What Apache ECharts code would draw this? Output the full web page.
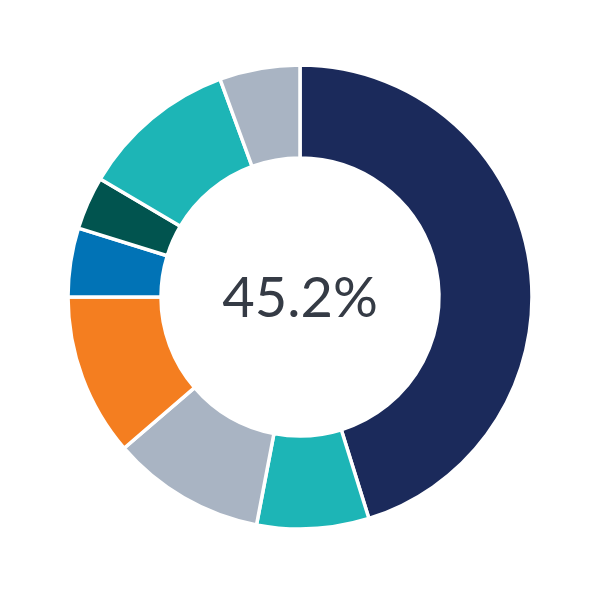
<!DOCTYPE html>
<html style="height: 100%">
<head>
    <meta charset="utf-8">
    <title>Donut</title>
    <script src="https://cdn.jsdelivr.net/npm/echarts@6/dist/echarts.min.js"></script>
</head>
<body style="height: 100%; margin: 0; background: #fff">
    <div id="main" style="width: 600px; height: 600px"></div>
    <script type="text/javascript">
        // slice data, clockwise from 12 o'clock
        var names  = ['A', 'B', 'C', 'D', 'E', 'F', 'G', 'H'];
        var values = [45.2, 7.8, 10.7, 11.3, 4.8, 3.7, 10.9, 5.6];
        var colors = ['#1b2a5b', '#1db5b6', '#a9b4c3', '#f47e20', '#0173b6', '#01544f', '#1db5b6', '#a9b4c3'];
        var centerLabel = '45.2%';

        var myChart = echarts.init(document.getElementById('main'));

        var data = names.map(function (n, i) {
            return { name: n, value: values[i], itemStyle: { color: colors[i] } };
        });

        var option = {
            animation: false,
            title: {
                text: centerLabel,
                left: 295, top: 294,
                textAlign: 'center', textVerticalAlign: 'middle',
                textStyle: { fontFamily: 'Lato', fontWeight: 'normal', fontSize: 56, color: '#353b45' }
            },
            series: [{
                type: 'pie',
                center: [300, 297],
                radius: [139, 232],
                startAngle: 90,
                clockwise: true,
                label: { show: false },
                labelLine: { show: false },
                itemStyle: { borderColor: '#fff', borderWidth: 3.5 },
                emphasis: { disabled: true },
                data: data
            }]
        };
        myChart.setOption(option);
    </script>
</body>
</html>
